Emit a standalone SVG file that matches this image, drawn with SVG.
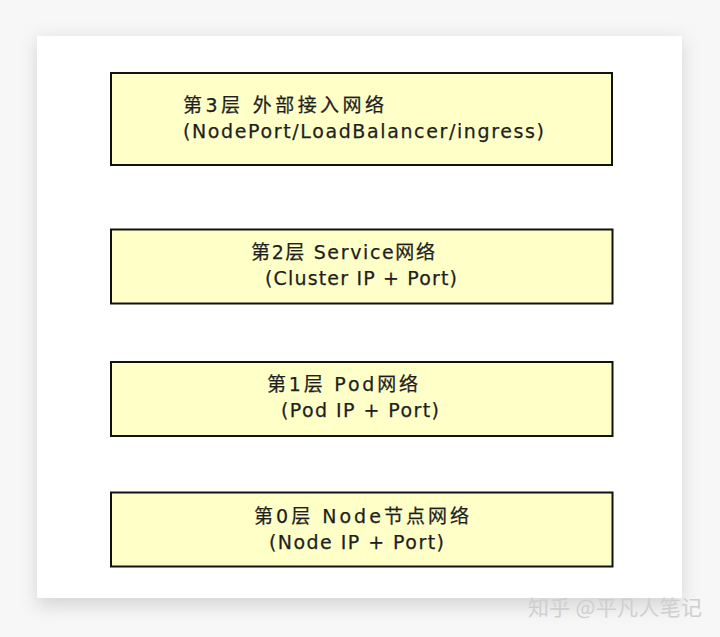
<svg xmlns="http://www.w3.org/2000/svg" width="720" height="637" viewBox="0 0 720 637">
  <defs>
    <filter id="shadow" x="-10%" y="-10%" width="120%" height="125%">
      <feGaussianBlur stdDeviation="9"/>
    </filter>
  </defs>
  <style>
    .box { fill: #ffffc8; stroke: #111111; stroke-width: 2; }
    .lbl { font-family: "DejaVu Sans", "Noto Sans CJK SC", sans-serif; font-size: 19px; fill: #1e1e1e; stroke: #1e1e1e; stroke-width: 0.25; }
    .wm { font-family: "Noto Sans CJK SC", sans-serif; font-size: 21px; fill: #cfcfcf; }
  </style>
  <rect x="0" y="0" width="720" height="637" fill="#f7f7f7"/>
  <rect x="37" y="40" width="645" height="566" fill="#b8b8b8" opacity="0.55" filter="url(#shadow)"/>
  <rect id="panel" x="37" y="36" width="645" height="562" fill="#ffffff"/>

  <g id="connectors"></g>

  <g id="layer3">
    <rect class="box" x="111" y="73" width="501" height="92"/>
    <text class="lbl" x="183" y="112" textLength="201" lengthAdjust="spacing">第3层 外部接入网络</text>
    <text class="lbl" x="183" y="138" textLength="361" lengthAdjust="spacing">(NodePort/LoadBalancer/ingress)</text>
  </g>

  <g id="layer2">
    <rect class="box" x="111" y="229.5" width="501.5" height="74"/>
    <text class="lbl" x="251" y="259" textLength="184" lengthAdjust="spacing">第2层 Service网络</text>
    <text class="lbl" x="265" y="285" textLength="192" lengthAdjust="spacing">(Cluster IP + Port)</text>
  </g>

  <g id="layer1">
    <rect class="box" x="111" y="362" width="501.5" height="74"/>
    <text class="lbl" x="267" y="391" textLength="151" lengthAdjust="spacing">第1层 Pod网络</text>
    <text class="lbl" x="281" y="417" textLength="158" lengthAdjust="spacing">(Pod IP + Port)</text>
  </g>

  <g id="layer0">
    <rect class="box" x="111" y="492.5" width="501.5" height="74"/>
    <text class="lbl" x="254" y="523" textLength="215" lengthAdjust="spacing">第0层 Node节点网络</text>
    <text class="lbl" x="269" y="549" textLength="175" lengthAdjust="spacing">(Node IP + Port)</text>
  </g>

  <text class="wm" x="528" y="615" textLength="174" lengthAdjust="spacing">知乎 @平凡人笔记</text>
</svg>
